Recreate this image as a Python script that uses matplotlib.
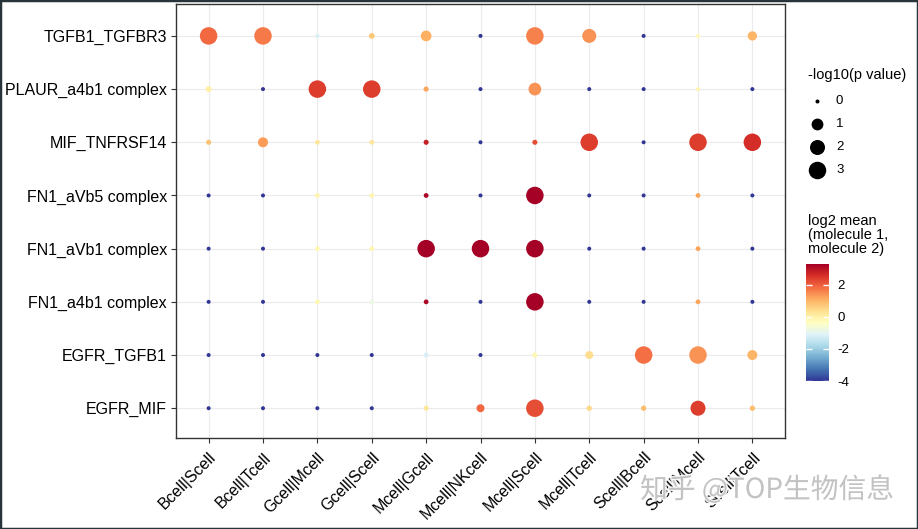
import numpy as np
import matplotlib
matplotlib.use("Agg")
import matplotlib.pyplot as plt
import matplotlib.patches as mpatches
import matplotlib.patheffects as pe
from matplotlib.colors import Normalize
from matplotlib.cm import ScalarMappable

plt.rcParams['font.family'] = ['Liberation Sans', 'DejaVu Sans']

pairs = ["Bcell|Scell", "Bcell|Tcell", "Gcell|Mcell", "Gcell|Scell", "Mcell|Gcell",
         "Mcell|NKcell", "Mcell|Scell", "Mcell|Tcell", "Scell|Bcell", "Scell|Mcell", "Scell|Tcell"]
# top to bottom
interactions = ["TGFB1_TGFBR3", "PLAUR_a4b1 complex", "MIF_TNFRSF14", "FN1_aVb5 complex",
                "FN1_aVb1 complex", "FN1_a4b1 complex", "EGFR_TGFB1", "EGFR_MIF"]

# log2 mean values (rows = interactions, cols = pairs)
log2_TGFB1_TGFBR3 = [1.9, 1.7, -1.2, 0.75, 1.1, -4, 1.6, 1.4, -4, -0.2, 1.0]
log2_PLAUR_a4b1 = [0.0, -4, 2.4, 2.4, 1.2, -4, 1.4, -4, -4, -0.1, -4]
log2_MIF_TNFRSF14 = [0.8, 1.3, 0.2, 0.2, 2.8, -4, 2.2, 2.4, -4, 2.4, 2.6]
log2_FN1_aVb5 = [-4, -4, -0.1, -0.1, 3.2, -4, 3.3, -4, -4, 1.2, -4]
log2_FN1_aVb1 = [-4, -4, -0.2, -0.1, 3.3, 3.3, 3.3, -4, -4, 1.2, -4]
log2_FN1_a4b1 = [-4, -4, -0.2, -0.8, 3.2, -4, 3.3, -4, -4, 1.2, -4]
log2_EGFR_TGFB1 = [-4, -4, -4, -4, -1.2, -4, -0.2, 0.4, 1.8, 1.4, 1.0]
log2_EGFR_MIF = [-4, -4, -4, -4, 0.2, 1.9, 2.2, 0.5, 0.9, 2.4, 0.9]

# -log10(p value)
p_TGFB1_TGFBR3 = [3, 3, 0, 0.05, 0.74, 0, 3, 1.65, 0, 0, 0.46]
p_PLAUR_a4b1 = [0.07, 0, 3, 3, 0.02, 0, 1.25, 0, 0, 0, 0]
p_MIF_TNFRSF14 = [0.02, 0.6, 0.01, 0.01, 0.02, 0, 0.02, 3, 0, 3, 3]
p_FN1_aVb5 = [0, 0, 0.01, 0.01, 0.01, 0, 3, 0, 0, 0.01, 0]
p_FN1_aVb1 = [0, 0, 0.01, 0.01, 3, 3, 3, 0, 0, 0.01, 0]
p_FN1_a4b1 = [0, 0, 0.01, 0.01, 0.01, 0, 3, 0, 0, 0.01, 0]
p_EGFR_TGFB1 = [0, 0, 0, 0, 0.01, 0, 0.02, 0.26, 3, 3, 0.59]
p_EGFR_MIF = [0, 0, 0, 0, 0.02, 0.26, 3, 0.03, 0.03, 2.0, 0.03]

size_breaks = [0, 1, 2, 3]
color_breaks = [-4, -2, 0, 2]

log2_rows = [log2_TGFB1_TGFBR3, log2_PLAUR_a4b1, log2_MIF_TNFRSF14, log2_FN1_aVb5,
             log2_FN1_aVb1, log2_FN1_a4b1, log2_EGFR_TGFB1, log2_EGFR_MIF]
p_rows = [p_TGFB1_TGFBR3, p_PLAUR_a4b1, p_MIF_TNFRSF14, p_FN1_aVb5,
          p_FN1_aVb1, p_FN1_a4b1, p_EGFR_TGFB1, p_EGFR_MIF]

DPI = 100
W, H = 918, 529


def marker_area(v):
    v = np.asarray(v, dtype=float)
    d_px = 4.0 + 13.5 * np.sqrt(np.clip(v, 0, None) / 3.0)
    return (d_px * 72.0 / DPI) ** 2


cmap = plt.get_cmap("RdYlBu_r")
norm = Normalize(vmin=-4.0, vmax=3.3)

fig = plt.figure(figsize=(W / DPI, H / DPI), dpi=DPI)
ax = fig.add_axes([176 / W, 1 - 438 / H, (785 - 176) / W, (438 - 4) / H])

n_rows = len(interactions)
for i, (lv, pv) in enumerate(zip(log2_rows, p_rows)):
    ypos = n_rows - 1 - i
    xs = np.arange(len(pairs))
    ax.scatter(xs, np.full(len(pairs), ypos), s=marker_area(pv), c=lv, cmap=cmap, norm=norm,
               linewidths=0, zorder=3)

ax.set_xlim(-0.6, len(pairs) - 1 + 0.6)
ax.set_ylim(-0.56, n_rows - 1 + 0.6)
ax.set_xticks(np.arange(len(pairs)))
ax.set_xticklabels(pairs, rotation=45, ha='right', va='top', rotation_mode='anchor',
                   fontsize=11.5, color='black')
ax.set_yticks(np.arange(n_rows))
ax.set_yticklabels(interactions[::-1], fontsize=11.5, color='black')
ax.grid(True, color='#ebebeb', linewidth=0.8, zorder=0)
ax.set_axisbelow(True)
for sp in ax.spines.values():
    sp.set_color('#333333')
    sp.set_linewidth(1.0)
ax.tick_params(axis='both', length=3.5, width=0.8, color='#333333', pad=3)
ax.tick_params(axis='x', pad=5)

# size legend
lax = fig.add_axes([0, 0, 1, 1], facecolor='none')
lax.set_xlim(0, W)
lax.set_ylim(H, 0)
lax.axis('off')
lax.text(808, 75, "-log10(p value)", fontsize=10.5, va='center', ha='left')
for k, b in enumerate(size_breaks):
    yy = 101 + 23 * k
    lax.scatter([817], [yy], s=marker_area([b]), c='black', linewidths=0)
    lax.text(836, yy, str(b), fontsize=9.5, va='center', ha='left')
lax.text(808, 235, "log2 mean\n(molecule 1,\nmolecule 2)", fontsize=10.5, va='center', ha='left',
         linespacing=1.0)

# colorbar
cax = fig.add_axes([806 / W, 1 - 381 / H, 23 / W, 117 / H])
cb = fig.colorbar(ScalarMappable(norm=norm, cmap=cmap), cax=cax, ticks=color_breaks)
cb.outline.set_visible(False)
cax.tick_params(direction='in', length=4, width=1, color='white', labelsize=9.5, pad=6)
cax.yaxis.set_ticks_position('both')
cax.tick_params(labelleft=False, labelright=True)
cb.ax.yaxis.set_ticklabels([str(c) for c in color_breaks])
for t in cax.get_yticklabels():
    t.set_color('black')

# watermark
wm = fig.text(767 / W, 1 - 490 / H, "知乎 @TOP生物信息", fontsize=20, color='#bdbdbd',
              ha='center', va='center', family=['Noto Sans CJK SC', 'DejaVu Sans'], alpha=0.9)
wm.set_path_effects([pe.withStroke(linewidth=2, foreground='white')])

# figure border
fig.patches.append(mpatches.Rectangle((0, 0), 1, 1, transform=fig.transFigure, fill=False,
                                      edgecolor='#27343a', linewidth=2.5, zorder=10))

fig.savefig("out.png", dpi=DPI)
